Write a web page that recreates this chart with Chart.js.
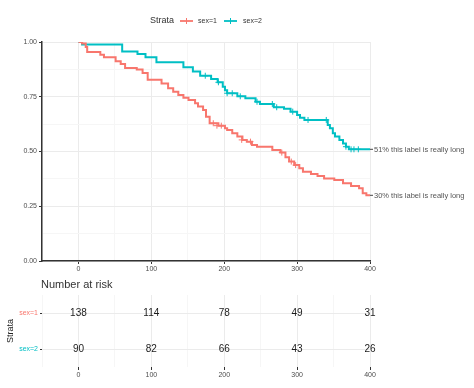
<!DOCTYPE html>
<html><head><meta charset="utf-8">
<script src="https://cdn.jsdelivr.net/npm/chart.js@4"></script>
<style>
html,body{margin:0;padding:0;background:#fff;}
#wrap{position:relative;width:474px;height:388px;overflow:hidden;background:#fff;}
canvas{position:absolute;left:0;}
</style></head><body>
<div id="wrap">
<canvas id="km" width="474" height="280" style="top:0px"></canvas>
<canvas id="risk" width="474" height="112" style="top:276px"></canvas>
</div>
<script>
// ---------- data ----------
const strata = ['sex=1', 'sex=2'];
const strataColors = ['#F8766D', '#00BFC4'];
const timeTicks = [0, 100, 200, 300, 400];
const survTicks = [0, 0.25, 0.5, 0.75, 1];

const survTimes1 = [0, 5, 10, 12, 30, 35, 51, 58, 64, 80, 88, 95, 114, 123, 130, 137, 144, 151, 160, 164, 171, 175, 180, 192, 201, 204, 211, 218, 225, 231, 238, 245, 266, 277, 284, 289, 296, 303, 308, 319, 328, 337, 351, 363, 374, 385, 390, 395, 400];
const survProb1  = [1.0, 0.993, 0.977, 0.954, 0.942, 0.930, 0.912, 0.900, 0.881, 0.874, 0.858, 0.828, 0.811, 0.789, 0.773, 0.758, 0.746, 0.735, 0.720, 0.705, 0.689, 0.659, 0.629, 0.618, 0.606, 0.598, 0.583, 0.568, 0.553, 0.545, 0.530, 0.522, 0.507, 0.495, 0.474, 0.454, 0.438, 0.423, 0.408, 0.397, 0.388, 0.377, 0.370, 0.355, 0.342, 0.332, 0.309, 0.300, 0.300];

const survTimes2 = [0, 5, 60, 81, 92, 107, 144, 157, 167, 182, 191, 198, 201, 204, 218, 229, 243, 249, 268, 282, 291, 300, 304, 310, 342, 345, 349, 352, 358, 363, 367, 371, 400];
const survProb2  = [1.0, 0.989, 0.957, 0.945, 0.930, 0.908, 0.885, 0.865, 0.846, 0.831, 0.816, 0.796, 0.780, 0.766, 0.752, 0.743, 0.727, 0.717, 0.702, 0.695, 0.682, 0.667, 0.654, 0.644, 0.621, 0.606, 0.583, 0.568, 0.553, 0.537, 0.522, 0.510, 0.510];

const censorTimes1 = [185, 190, 196, 224, 236, 279, 292, 298];
const censorProb1  = [0.629, 0.618, 0.618, 0.553, 0.545, 0.495, 0.454, 0.438];
const censorTimes2 = [174, 192, 204, 211, 222, 245, 266, 272, 294, 315, 340, 367, 374, 378, 384];
const censorProb2  = [0.846, 0.816, 0.766, 0.766, 0.752, 0.727, 0.717, 0.702, 0.682, 0.644, 0.644, 0.522, 0.510, 0.510, 0.510];

const endLabels = ['30% this label is really long', '51% this label is really long'];
const endValues = [0.30, 0.51];

const riskSex1 = [138, 114, 78, 49, 31];
const riskSex2 = [90, 82, 66, 43, 26];

// ---------- helpers ----------
const FONT = '"Liberation Sans", Arial, sans-serif';
const zip = (xs, ys) => xs.map((x, i) => ({x: x, y: ys[i]}));
const majorGrid = '#ebebeb', minorGrid = '#f6f6f6', axisDark = '#333333', tickText = '#4d4d4d';

const xTicksBuild = s => { const t = []; for (let v = -50; v <= 400; v += 50) t.push({value: v}); s.ticks = t; };
const isMajorX = v => timeTicks.includes(v);
const isMajorY = v => survTicks.some(t => Math.abs(t - v) < 1e-9);

// ---------- KM chart ----------
const kmPlugin = {
  id: 'kmExtras',
  afterDraw(chart) {
    const ctx = chart.ctx;
    // legend
    ctx.save();
    ctx.textBaseline = 'middle';
    ctx.fillStyle = '#333';
    ctx.font = '9px ' + FONT;
    ctx.textAlign = 'left';
    ctx.fillText('Strata', 150, 21);
    const items = [[180, 198], [224, 243]];
    items.forEach((it, i) => {
      ctx.strokeStyle = strataColors[i];
      ctx.lineWidth = 1.8;
      ctx.beginPath(); ctx.moveTo(it[0], 21); ctx.lineTo(it[0] + 13, 21); ctx.stroke();
      ctx.lineWidth = 1;
      ctx.beginPath(); ctx.moveTo(it[0] + 6.5, 18); ctx.lineTo(it[0] + 6.5, 24); ctx.stroke();
      ctx.fillStyle = '#333';
      ctx.font = '7px ' + FONT;
      ctx.fillText(strata[i], it[1], 21.5);
    });
    // end labels
    const xs = chart.scales.x, ys = chart.scales.y;
    endLabels.forEach((lab, i) => {
      const px = xs.getPixelForValue(400), py = ys.getPixelForValue(endValues[i]);
      ctx.strokeStyle = '#444'; ctx.lineWidth = 1;
      ctx.beginPath(); ctx.moveTo(px, py); ctx.lineTo(px + 3, py); ctx.stroke();
      ctx.fillStyle = '#555';
      ctx.font = '7.5px ' + FONT;
      ctx.fillText(lab, px + 4, py + 0.5);
    });
    ctx.restore();
  }
};

const curveDs = (t, p, c) => ({
  type: 'scatter', data: zip(t, p), showLine: true, stepped: true,
  borderColor: c, backgroundColor: c, borderWidth: 2, pointRadius: 0, fill: false
});
const censorDs = (t, p, c) => ({
  type: 'scatter', data: zip(t, p), showLine: false,
  pointStyle: 'cross', pointRadius: 3, borderColor: c, backgroundColor: c, borderWidth: 1
});

new Chart(document.getElementById('km'), {
  type: 'scatter',
  data: {
    datasets: [
      curveDs(survTimes1, survProb1, strataColors[0]),
      curveDs(survTimes2, survProb2, strataColors[1]),
      censorDs(censorTimes1, censorProb1, strataColors[0]),
      censorDs(censorTimes2, censorProb2, strataColors[1])
    ]
  },
  options: {
    responsive: false, animation: false, events: [],
    layout: {padding: {top: 42, right: 104, bottom: 2, left: 0}},
    plugins: {legend: {display: false}, tooltip: {enabled: false}},
    scales: {
      x: {
        type: 'linear', min: -50, max: 400,
        afterBuildTicks: xTicksBuild,
        afterFit: s => { s.height = 17; },
        border: {display: true, color: axisDark, width: 1.5},
        grid: {
          color: c => isMajorX(c.tick.value) ? majorGrid : minorGrid,
          tickColor: c => isMajorX(c.tick.value) ? axisDark : 'rgba(0,0,0,0)',
          tickLength: 3, lineWidth: 1
        },
        ticks: {
          autoSkip: false, maxRotation: 0, padding: 1, color: tickText,
          font: {family: FONT, size: 7},
          callback: v => isMajorX(v) ? String(v) : ''
        }
      },
      y: {
        type: 'linear', min: 0, max: 1,
        afterBuildTicks: s => { const t = []; for (let i = 0; i <= 8; i++) t.push({value: i / 8}); s.ticks = t; },
        afterFit: s => { s.width = 42; },
        border: {display: true, color: axisDark, width: 1.5},
        grid: {
          color: c => isMajorY(c.tick.value) ? majorGrid : minorGrid,
          tickColor: c => isMajorY(c.tick.value) ? axisDark : 'rgba(0,0,0,0)',
          tickLength: 3, lineWidth: 1
        },
        ticks: {
          autoSkip: false, padding: 2, color: tickText,
          font: {family: FONT, size: 7},
          callback: v => isMajorY(v) ? v.toFixed(2) : ''
        }
      }
    }
  },
  plugins: [kmPlugin]
});

// ---------- risk table ----------
const riskValues = [riskSex1, riskSex2];
const riskPlugin = {
  id: 'riskText',
  afterDatasetsDraw(chart) {
    const ctx = chart.ctx;
    ctx.save();
    ctx.textAlign = 'center'; ctx.textBaseline = 'middle';
    ctx.fillStyle = '#1a1a1a';
    ctx.font = '10px ' + FONT;
    chart.data.datasets.forEach((ds, di) => {
      const meta = chart.getDatasetMeta(di);
      meta.data.forEach((el, i) => {
        ctx.fillText(String(riskValues[di][i]), el.x, el.y + 0.5);
      });
    });
    ctx.textAlign = 'left';
    ctx.fillStyle = '#333';
    ctx.font = '11px ' + FONT;
    ctx.fillText('Number at risk', chart.chartArea.left - 1, 9);
    ctx.restore();
  }
};

new Chart(document.getElementById('risk'), {
  type: 'scatter',
  data: {
    datasets: strata.map((s, k) => ({
      data: timeTicks.map(t => ({x: t, y: s})),
      pointRadius: 0, showLine: false
    }))
  },
  options: {
    responsive: false, animation: false, events: [],
    layout: {padding: {top: 19, right: 104, bottom: 0, left: 0}},
    plugins: {legend: {display: false}, tooltip: {enabled: false}},
    scales: {
      x: {
        type: 'linear', min: -50, max: 400,
        afterBuildTicks: xTicksBuild,
        afterFit: s => { s.height = 21; },
        border: {display: false},
        grid: {
          color: c => isMajorX(c.tick.value) ? majorGrid : minorGrid,
          tickColor: c => isMajorX(c.tick.value) ? axisDark : 'rgba(0,0,0,0)',
          tickLength: 3
        },
        ticks: {
          autoSkip: false, maxRotation: 0, padding: 1, color: tickText,
          font: {family: FONT, size: 7},
          callback: v => isMajorX(v) ? String(v) : ''
        }
      },
      y: {
        type: 'category', labels: strata, offset: true,
        afterFit: s => { s.width = 42; },
        border: {display: false},
        grid: {offset: false, color: majorGrid, tickColor: axisDark, tickLength: 2},
        title: {display: true, text: 'Strata', color: '#222', font: {family: FONT, size: 9}, padding: {top: 5, bottom: 0}},
        ticks: {
          padding: 2, font: {family: FONT, size: 7},
          color: c => strataColors[c.index]
        }
      }
    }
  },
  plugins: [riskPlugin]
});
</script>
</body></html>
